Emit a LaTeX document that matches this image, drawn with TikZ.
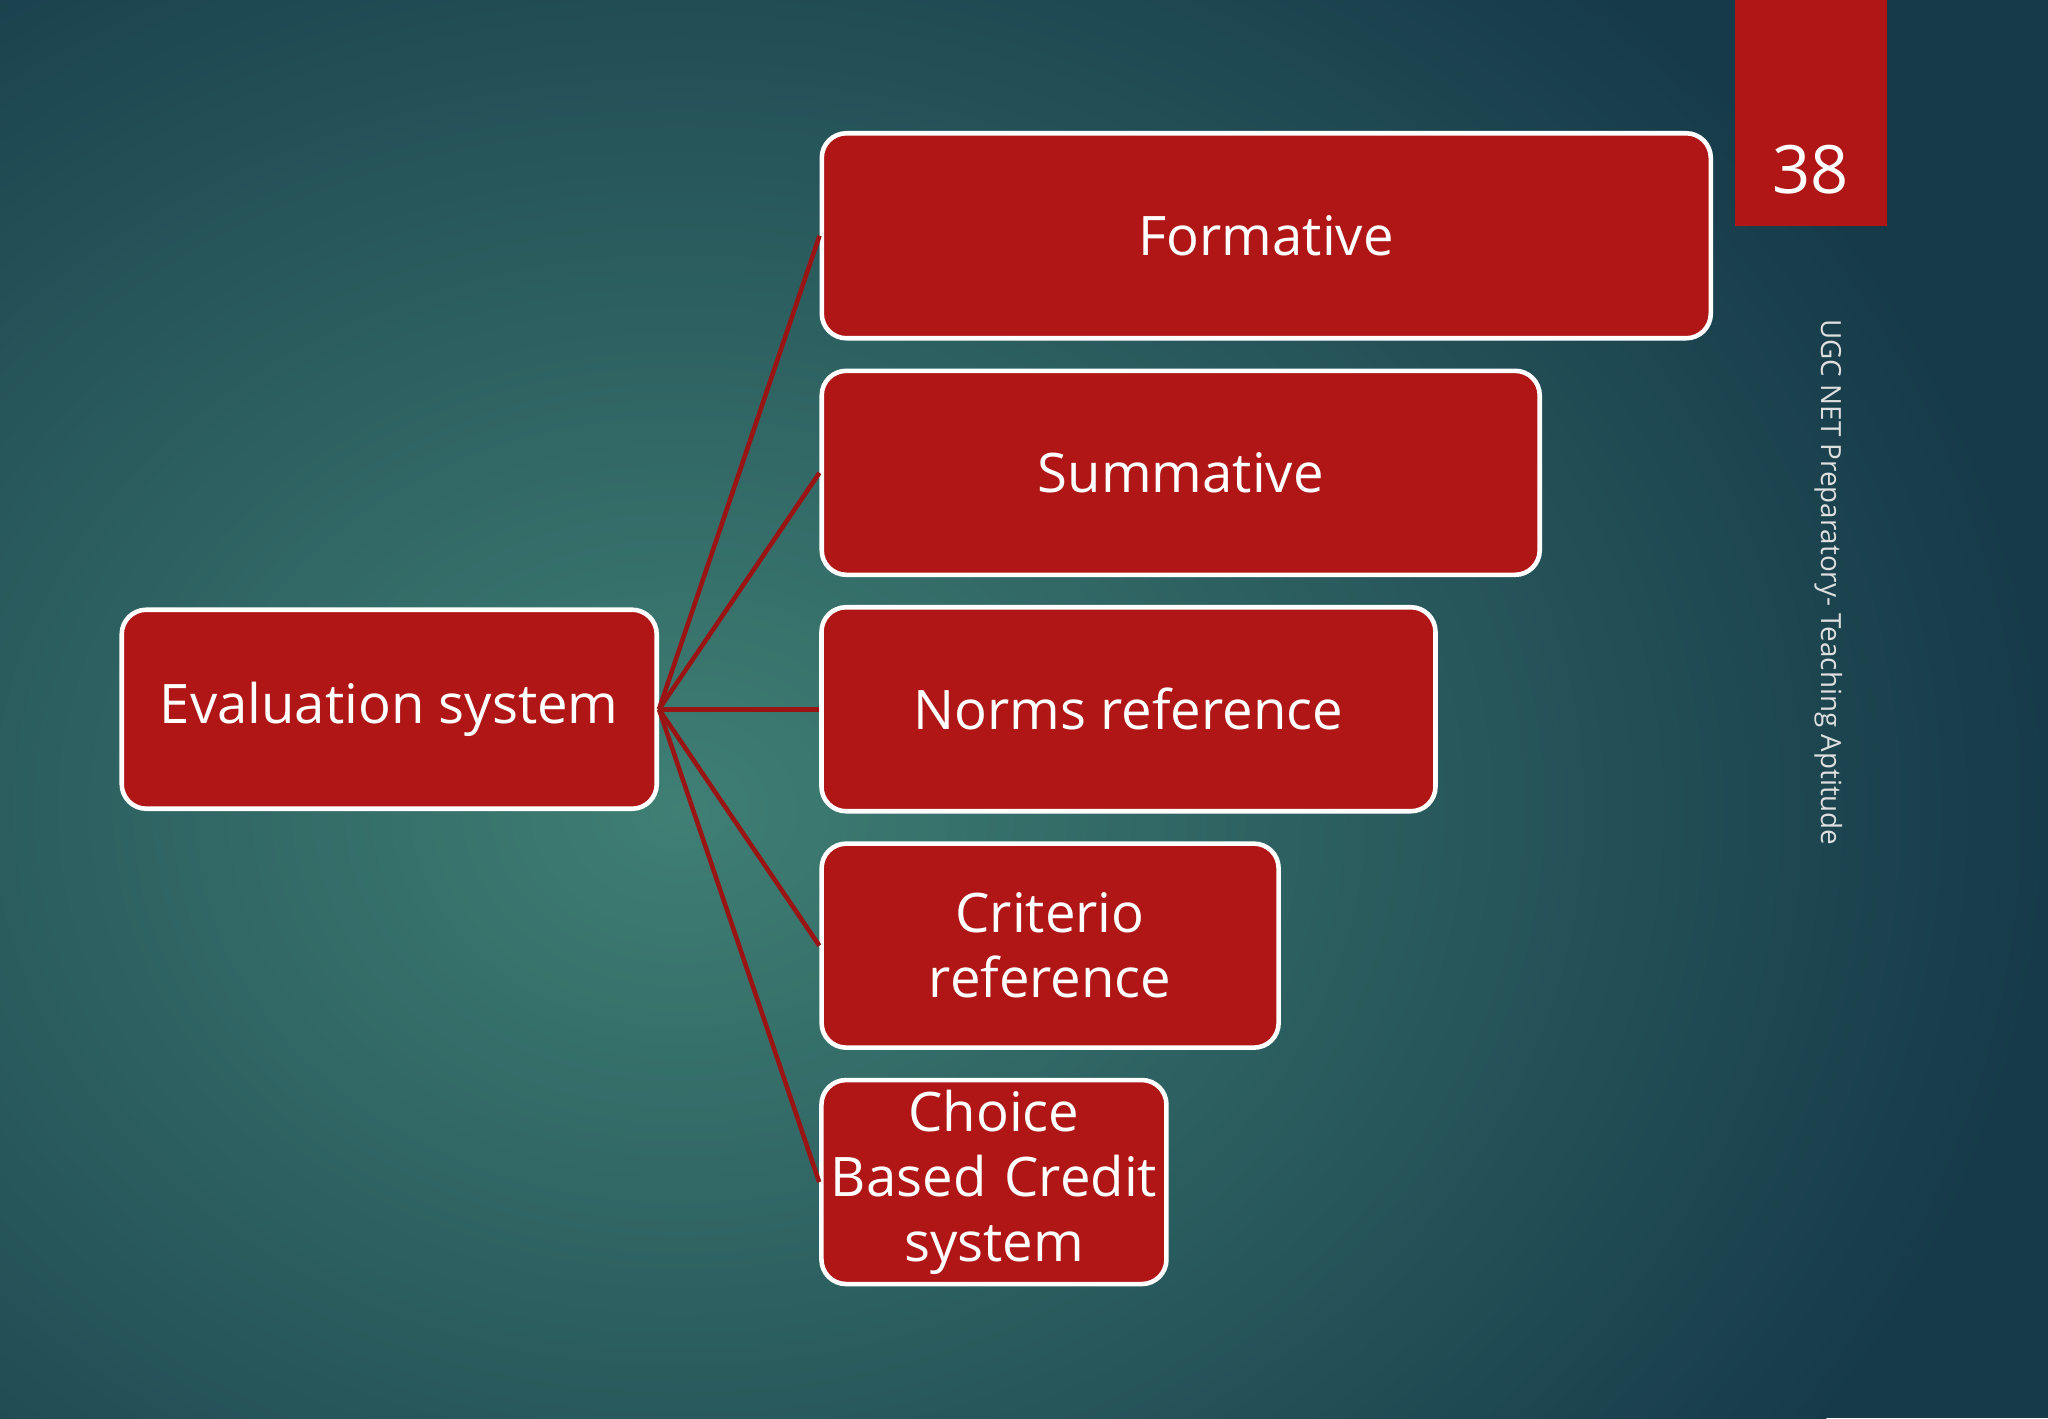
\documentclass[tikz,border=0pt]{standalone}
\usepackage{fontspec}
\setmainfont{Open Sans}
\definecolor{boxred}{HTML}{AF1615}
\definecolor{linered}{HTML}{9A1414}
\definecolor{bginner}{HTML}{3F7F74}
\definecolor{bgouter}{HTML}{163A49}
\begin{document}
\begin{tikzpicture}[x=0.013061cm,y=-0.013061cm,
  box/.style={draw=white,line width=1.3pt,fill=boxred,rounded corners=7pt,
    text=white,align=center,inner sep=1pt,
    font=\fontsize{15.5}{18.5}\selectfont},
  link/.style={draw=linered,line width=1.3pt}]
% background
\useasboundingbox (0,0) rectangle (1568,1086);
\fill[bgouter] (0,0) rectangle (1568,1086);
\shade[inner color=bginner,outer color=bgouter] (520,620) circle[x radius=1050,y radius=850];
% page number
\fill[boxred] (1328,0) rectangle (1445,173);
\node[text=white,font=\fontsize{19}{22}\selectfont] (pnum) at (1386,130) {38};
\node[text=white!75!gray,rotate=-90,font=\fontsize{7.9}{10}\selectfont] (footer) at (1400,446) {UGC NET Preparatory- Teaching Aptitude};
% boxes
\node[box,minimum width=5.35cm,minimum height=1.99cm] (eval) at (298,543) {Evaluation system};
\node[box,minimum width=8.89cm,minimum height=2.05cm] (form) at (969.5,180.5) {Formative};
\node[box,minimum width=7.18cm,minimum height=2.04cm] (summ) at (904,362) {Summative};
\node[box,minimum width=6.14cm,minimum height=2.04cm] (norms) at (864,543) {Norms reference};
\node[box,minimum width=4.57cm,minimum height=2.04cm,text width=4.4cm] (crit) at (804,724) {Criterio\\reference};
\node[box,minimum width=3.45cm,minimum height=2.04cm,text width=3.35cm] (cbcs) at (761,905) {Choice\\Based Credit\\system};
% links
\foreach \n in {form,summ,norms,crit,cbcs}
  \draw[link] (eval.east) -- (\n.west);
\end{tikzpicture}
\end{document}
